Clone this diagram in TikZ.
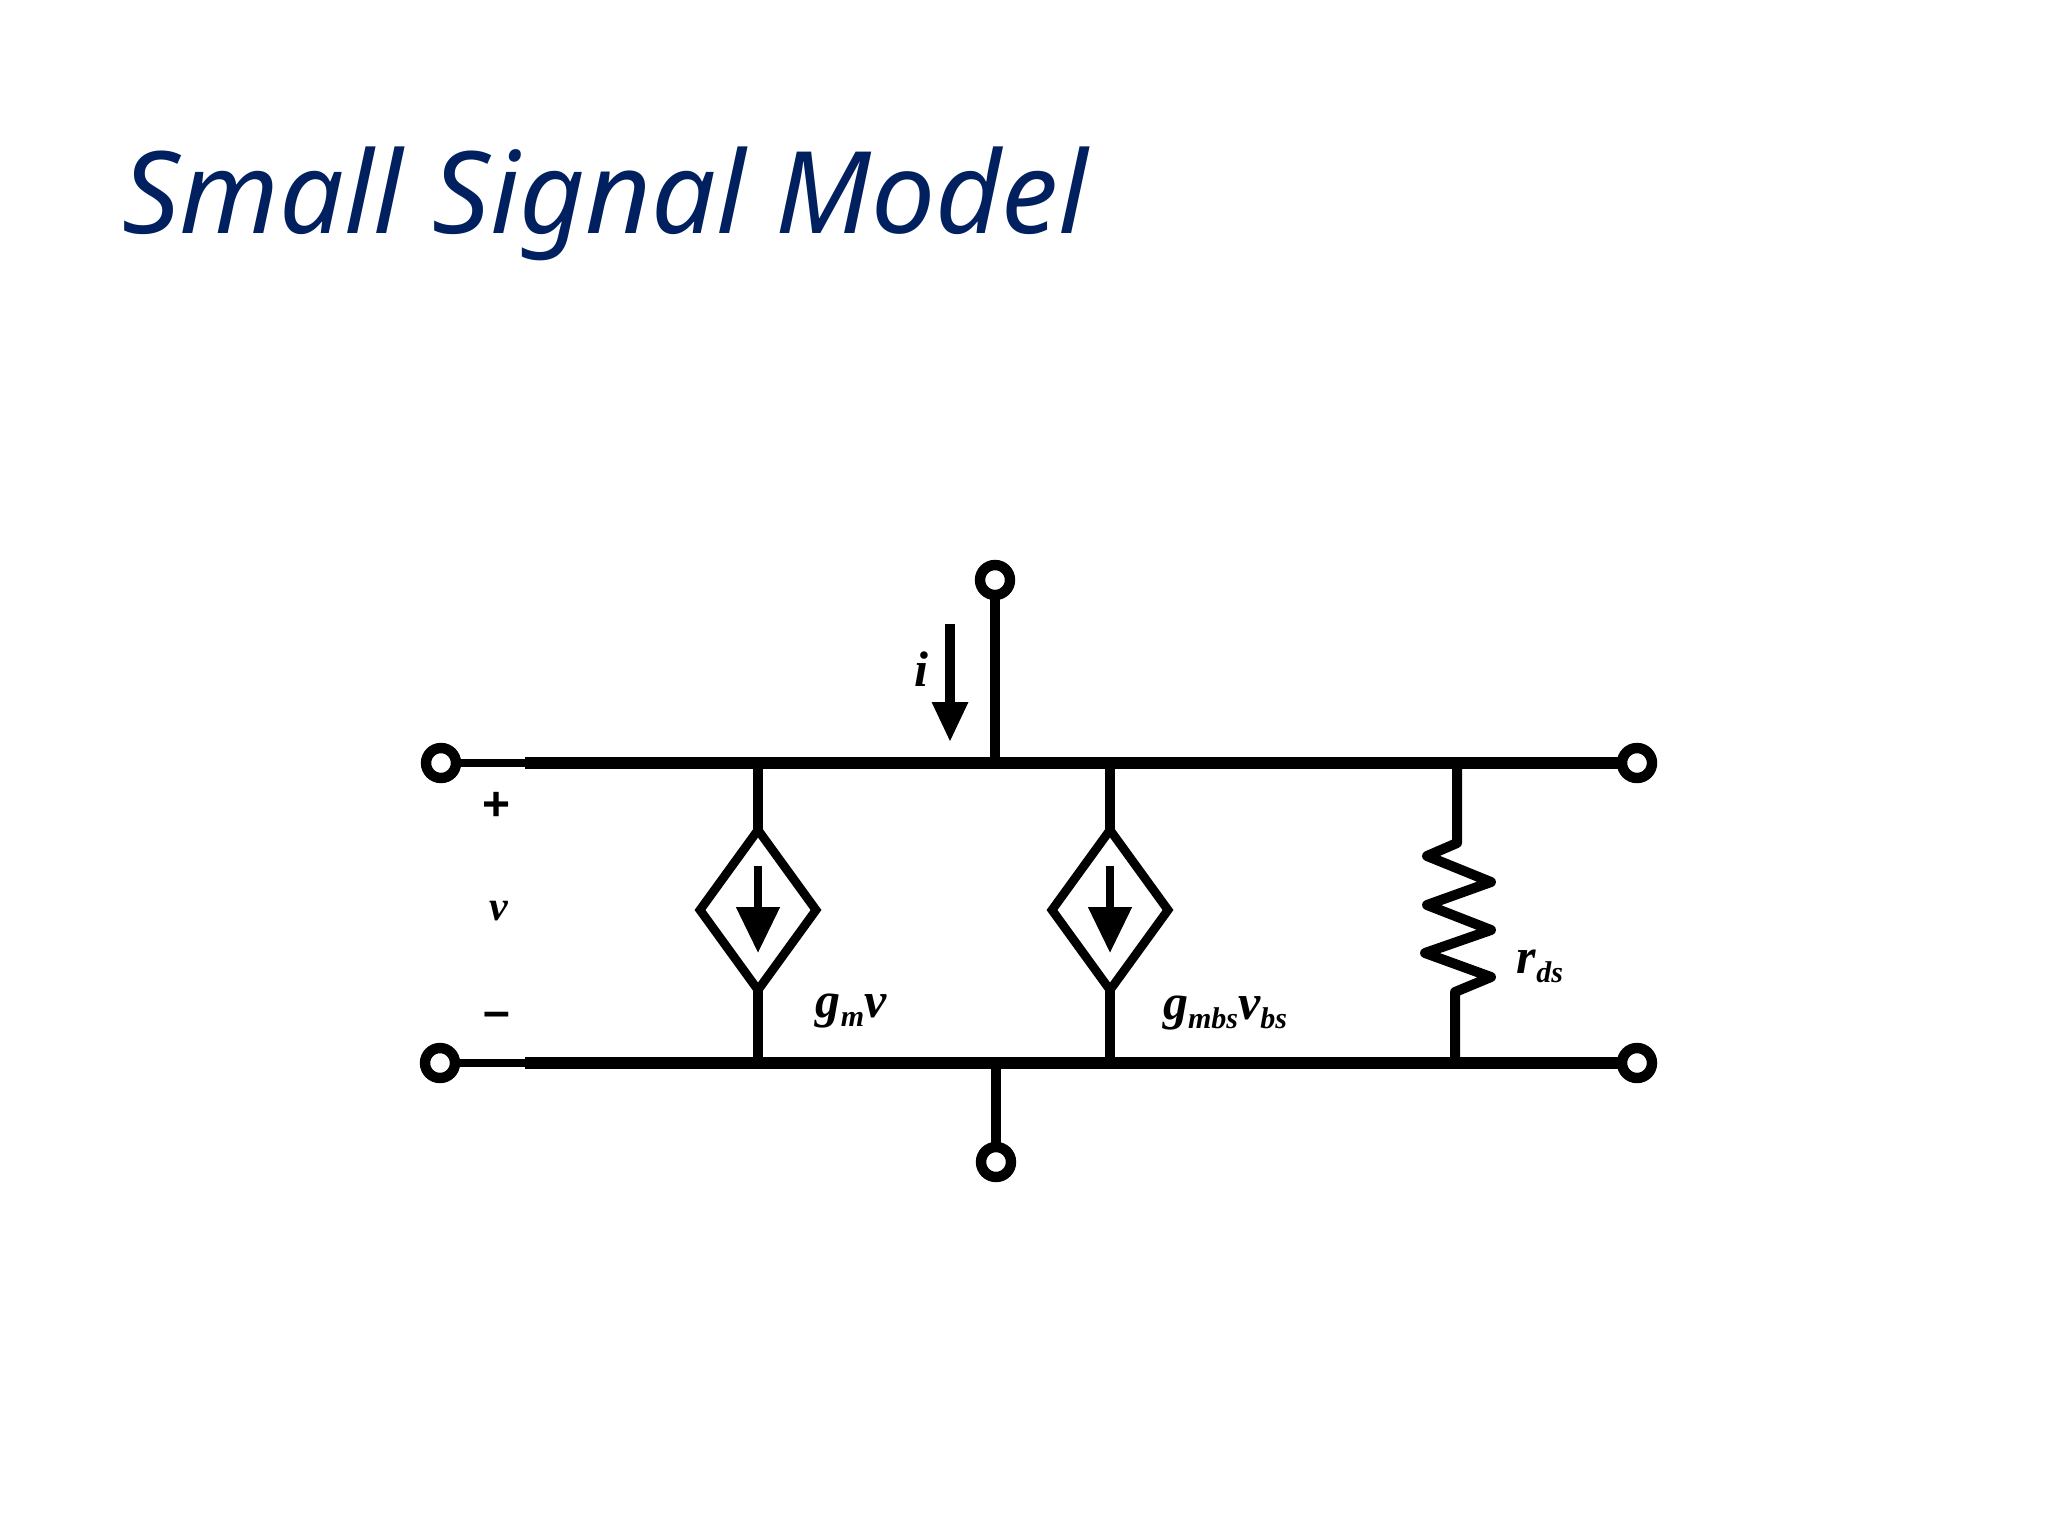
\documentclass[tikz,border=0pt]{standalone}
\usepackage{fontspec}
\setmainfont{Liberation Serif}
\newfontfamily\titlefont{Noto Sans}
\newfontfamily\signfont{Liberation Sans}
\usetikzlibrary{shapes.geometric,arrows.meta}
\definecolor{titleblue}{HTML}{002060}
\newcommand{\lowsub}[1]{\raisebox{-0.4ex}{\fontsize{15}{16}\selectfont #1}}
\tikzset{
  term/.style={circle,draw=black,fill=white,line width=5.2pt,minimum size=15pt,inner sep=0pt,outer sep=0pt},
  wire/.style={line width=6pt,black},
  thinwire/.style={line width=4.4pt,black},
  stem/.style={line width=4.6pt,black},
  source/.style={diamond,draw=black,line width=4.4pt,minimum width=58pt,minimum height=80pt,inner sep=0pt,outer sep=0pt,fill=white},
  arr/.style={line width=4pt,black,-{Triangle[length=23pt,width=21pt]}},
  lab/.style={font=\fontsize{25}{26}\selectfont\bfseries\itshape,inner sep=0pt,black},
  signlab/.style={font=\signfont\fontsize{24}{24}\selectfont\bfseries,inner sep=0pt,black},
  title/.style={font=\titlefont\itshape\fontsize{57}{61}\selectfont,text=titleblue,inner sep=0pt,anchor=base west}
}
\begin{document}
\begin{tikzpicture}[x=0.5pt,y=-0.5pt]
\useasboundingbox[fill=white] (0,0) rectangle (2048,1536);
\node[title] (ttl) at (122,233) {Small Signal Model};

% junctions
\coordinate (tla) at (525,763);
\coordinate (bla) at (525,1063);
\coordinate (j1t) at (758,763);
\coordinate (j2t) at (1110,763);
\coordinate (j3t) at (1457,763);
\coordinate (jtt) at (995,763);
\coordinate (j1b) at (758,1063);
\coordinate (j2b) at (1110,1063);
\coordinate (j3b) at (1455,1063);
\coordinate (jbt) at (996,1063);

% sources
\node[source] (s1) at (758,910) {};
\node[source] (s2) at (1110,910) {};

% wires
\draw[thinwire] (441,763) -- (tla);
\draw[thinwire] (440,1063) -- (bla);
\draw[wire] (tla) -- (1637,763);
\draw[wire] (bla) -- (1637,1063);
\draw[stem] (995,580) -- (jtt);
\draw[stem] (996,1162) -- (jbt);
\draw[stem] (j1t) -- (s1.north);
\draw[stem] (s1.south) -- (j1b);
\draw[stem] (j2t) -- (s2.north);
\draw[stem] (s2.south) -- (j2b);

% terminals
\node[term] (tl) at (441,763) {};
\node[term] (bl) at (440,1063) {};
\node[term] (tt) at (995,580) {};
\node[term] (bt) at (996,1162) {};
\node[term] (tr) at (1637,763) {};
\node[term] (br) at (1637,1063) {};

% resistor
\draw[stem,line join=round,line width=5pt] (j3t) -- (1457,843) -- (1427,856) -- (1491,882) -- (1427,905)
  -- (1491,930) -- (1425,953) -- (1491,977) -- (1455,992) -- (j3b);

% arrows
\coordinate (a1s) at (758,866);
\coordinate (a1e) at (758,953);
\draw[arr] (a1s) -- (a1e);
\coordinate (a2s) at (1110,866);
\coordinate (a2e) at (1110,953);
\draw[arr] (a2s) -- (a2e);
\coordinate (ais) at (950,624);
\coordinate (aie) at (950,742);
\draw[line width=4.6pt,black,-{Triangle[length=20pt,width=17pt]}] (ais) -- (aie);

% labels
\node[signlab] (plus) at (497,806) {+};
\node[lab,font=\fontsize{21}{22}\selectfont\bfseries\itshape] (v) at (499,911) {v};
\node[signlab] (minus) at (497,1020) {\textendash};
\node[lab] (i) at (921,669) {i};
\node[lab] (gm) at (851,1011) {g\lowsub{m}v};
\node[lab] (gmb) at (1225,1013) {g\lowsub{mbs}v\lowsub{bs}};
\node[lab] (rds) at (1540,966) {r\lowsub{ds}};
\end{tikzpicture}
\end{document}
